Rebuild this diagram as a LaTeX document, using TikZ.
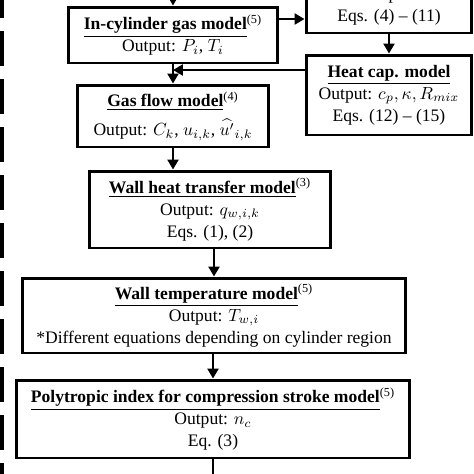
\documentclass[tikz,border=0pt]{standalone}
\usepackage{fontspec}
\setmainfont{Liberation Serif}
\usetikzlibrary{arrows.meta, calc}
\newcommand{\modeltitle}[2]{\underline{\textbf{#1}}\textsuperscript{(#2)}}

\begin{document}
\begin{tikzpicture}[x=0.02cm, y=-0.02cm, every node/.append style={align=center, font=\fontsize{10}{12.5}\selectfont},
	model/.style={draw, rectangle, line width=1.7pt, inner sep=0pt},
	arr/.style={line width=1.4pt, -{Triangle[length=0.2cm, width=0.22cm]}}]
	\useasboundingbox (0,0) rectangle (474,474);
	\clip (0,0) rectangle (474,474);
	% dashed border on the left
	\draw[line width=0.08cm, dash pattern=on 0.7cm off 0.26cm, dash phase=0.34cm] (2,0) -- (2,474);
	% models
	\node[model, minimum width=3.32cm, minimum height=1.04cm] at (389, 7) (eqs) {Output:\\Eqs. (4) -- (11)};
	\node[model, minimum width=4.2cm, minimum height=1.12cm] at (173, 35) (cyl) {\modeltitle{In-cylinder gas model}{5}\\Output: $P_i$, $T_i$};
	\node[model, minimum width=3.32cm, minimum height=1.6cm] at (389, 95) (cap) {\underline{\textbf{Heat cap. model}}\\Output: $c_p, \kappa, R_{mix}$\\Eqs. (12) -- (15)};
	\node[model, minimum width=3.84cm, minimum height=1.24cm] at (173, 116) (flow) {\modeltitle{Gas flow model}{4}\\[4pt]Output: $C_k$, $u_{i,k}$, $\widehat{u'}_{i,k}$};
	\node[model, minimum width=4.84cm, minimum height=1.54cm] at (210, 209.5) (heat) {\modeltitle{Wall heat transfer model}{3}\\Output: $q_{w,i,k}$\\Eqs. (1), (2)};
	\node[model, minimum width=7.68cm, minimum height=1.5cm] at (214, 315.5) (temp) {\modeltitle{Wall temperature model}{5}\\Output: $T_{w,i}$\\*Different equations depending on cylinder region};
	\node[model, minimum width=7.88cm, minimum height=1.56cm] at (213, 419) (poly) {\modeltitle{Polytropic index for compression stroke model}{5}\\Output: $n_c$\\Eq. (3)};
	\coordinate (in) at (173, -5);
	\coordinate (out) at (213, 480);
	% connectors
	\draw[arr] (in) -- (cyl.north);
	\draw[arr] ([yshift=0.32cm]cyl.east) -- ([yshift=0.32cm]cyl.east -| eqs.west);
	\draw[arr] (eqs.south) -- (cap.north);
	\draw[arr] ([yshift=0.5cm]cap.west) -- ([yshift=0.5cm]cap.west -| cyl.south);
	\draw[arr] (cyl.south) -- (flow.north);
	\draw[arr] (flow.south) -- (flow.south |- heat.north);
	\draw[arr] (temp.north |- heat.south) -- (temp.north);
	\draw[arr] (poly.north |- temp.south) -- (poly.north);
	\draw[line width=1.4pt] (poly.south) -- (out);
\end{tikzpicture}
\end{document}
